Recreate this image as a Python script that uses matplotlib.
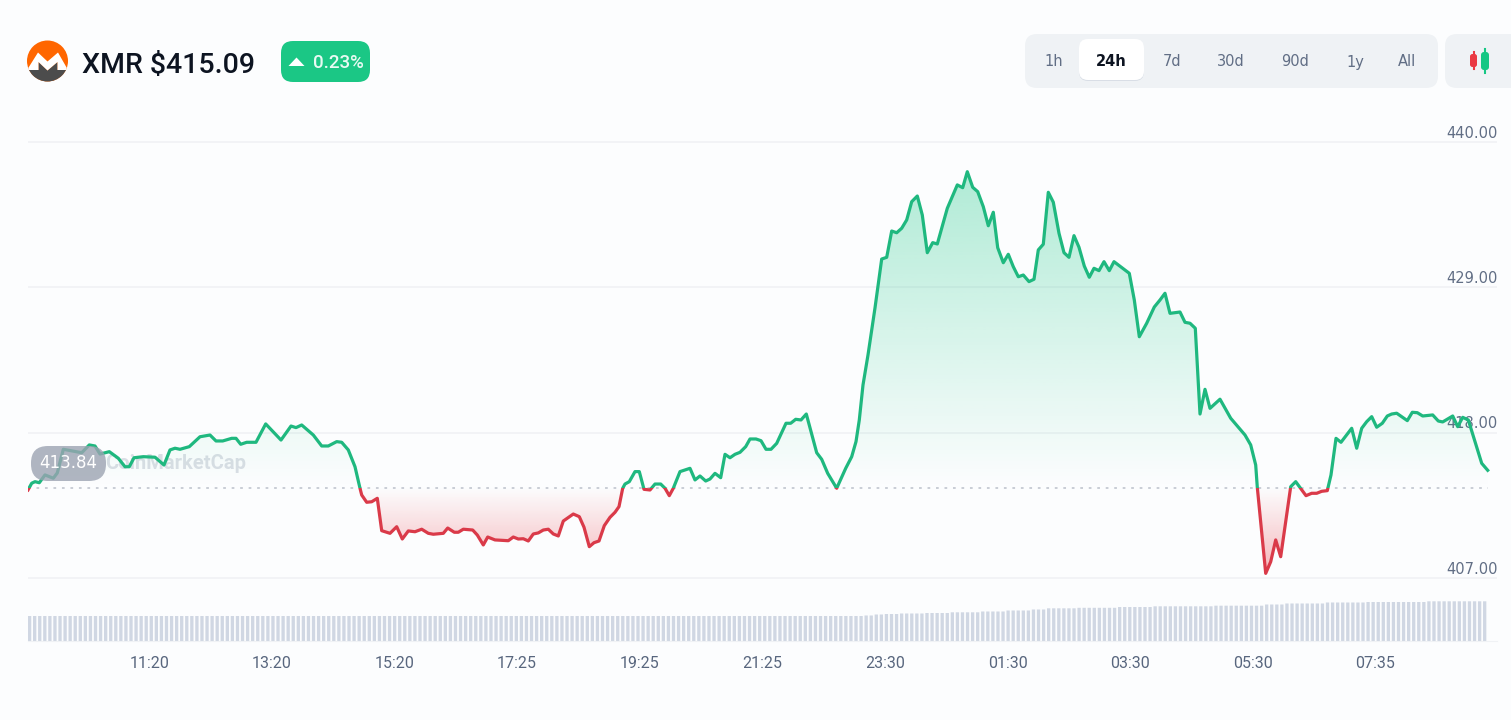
import numpy as np
import matplotlib
matplotlib.use("Agg")
import matplotlib.pyplot as plt
from matplotlib.patches import FancyBboxPatch, Polygon, Circle, Rectangle
from matplotlib.transforms import ScaledTranslation

# minutes since the left edge of the chart
elapsed = [
    0, 3.7, 7, 11.3, 17, 25.3, 29.3, 35.3, 53.7, 61.3, 67, 72, 81.3, 90.3, 97, 101.3,
    106, 115.3, 127, 136, 142, 147, 152, 161.3, 172, 182, 188, 194.7, 203.7, 208, 212.7, 218.7,
    228, 237.7, 253, 263, 268, 273.7, 285.3, 293.7, 300.3, 308.7, 313.7, 320.3, 327, 332, 333.7, 338.7,
    343.7, 349.3, 353.7, 362, 368.7, 374.3, 380.3, 387, 393.7, 400.3, 405.3, 415.3, 419.7, 426.3, 430.3, 435.3,
    444.7, 449.3, 455.3, 459.7, 467, 480.3, 485.3, 490.3, 495.3, 500.3, 505.3, 510.3, 515.3, 520.3, 525.3, 530.3,
    535.3, 545.3, 551.3, 556, 561.3, 566, 571, 576.3, 582, 587, 591, 594.7, 597, 601.3, 607, 611.3,
    616, 622, 627, 632.7, 637, 641.3, 645.3, 652, 662, 667, 672, 677.7, 682, 687, 692.7, 697,
    702, 707, 712, 717.7, 722, 728, 733, 738, 743, 748.7, 758, 762.7, 767.7, 773, 778.3, 788.7,
    793.7, 799.7, 808.7, 817.7, 823.7, 828, 831.3, 835, 840, 847, 853.7, 858.7, 863.7, 868.7, 873.7, 878.7,
    883.7, 889.3, 894.3, 899.3, 904.7, 909.3, 919.3, 929.3, 934.7, 939.3, 944.7, 949.7, 955.3, 960.3, 965.3, 969.7,
    975.3, 980.3, 985.3, 990.3, 995.3, 1001, 1006, 1010.3, 1015.3, 1020.3, 1025.3, 1031, 1036, 1041, 1046, 1051,
    1056.3, 1061.3, 1066, 1071, 1076, 1081.3, 1086, 1101.3, 1106.3, 1111.3, 1118.7, 1126.3, 1132, 1137, 1142, 1152,
    1157, 1162, 1167.3, 1172, 1177, 1182, 1192, 1202.7, 1217, 1222.7, 1227.7, 1229.3, 1237.7, 1242.7, 1247.7, 1252.7,
    1262.7, 1267.7, 1278, 1283.7, 1288.7, 1293.7, 1299.3, 1303, 1308, 1313, 1323.7, 1328.7, 1333.7, 1338.7, 1343.7, 1348.7,
    1354.3, 1359.3, 1363.7, 1368.7, 1379.3, 1384.3, 1389.3, 1394.7, 1404.7, 1410.3, 1414.7, 1424.7, 1429.7, 1434.7, 1440.3, 1453.7,
    1459.7,
]
prices = [
    413.66, 414.17, 414.29, 414.21, 414.80, 414.55, 414.95, 416.74, 416.48, 417.07, 416.99, 416.38, 416.56, 416.06, 415.42, 415.42,
    416.10, 416.18, 416.14, 415.55, 416.69, 416.82, 416.74, 416.94, 417.69, 417.82, 417.37, 417.37, 417.57, 417.57, 417.12, 417.27,
    417.27, 418.66, 417.44, 418.50, 418.38, 418.58, 417.82, 416.99, 416.99, 417.32, 417.27, 416.69, 415.42, 413.79, 413.28, 412.73,
    412.77, 413.03, 410.58, 410.38, 410.88, 409.95, 410.56, 410.50, 410.69, 410.38, 410.31, 410.38, 410.78, 410.46, 410.46, 410.69,
    410.63, 410.25, 409.50, 410.10, 409.88, 409.82, 410.10, 409.95, 409.97, 409.80, 410.33, 410.41, 410.63, 410.69, 410.33, 410.18,
    411.31, 411.84, 411.64, 410.84, 409.37, 409.67, 409.80, 410.96, 411.59, 411.97, 412.40, 413.79, 414.11, 414.29, 415.05, 415.05,
    413.71, 413.66, 414.11, 414.11, 413.79, 413.23, 413.79, 415.05, 415.30, 414.42, 414.72, 414.34, 414.49, 414.92, 414.59, 416.36,
    416.10, 416.36, 416.51, 416.94, 417.52, 417.52, 417.39, 416.74, 416.74, 417.19, 418.71, 418.71, 419.01, 418.96, 419.41, 416.48,
    415.98, 414.92, 413.79, 415.30, 416.18, 417.32, 418.96, 421.61, 423.88, 427.44, 431.14, 431.27, 433.26, 433.13, 433.47, 434.10,
    435.48, 435.91, 434.47, 431.62, 432.38, 432.28, 434.98, 436.75, 436.54, 437.75, 436.57, 436.24, 435.10, 433.66, 434.68, 432.00,
    430.86, 431.50, 430.56, 429.80, 429.93, 429.43, 429.61, 431.83, 432.26, 436.19, 435.44, 433.09, 431.62, 431.27, 432.91, 432.03,
    430.61, 429.76, 430.44, 430.26, 430.94, 430.26, 430.94, 430.06, 428.04, 425.26, 426.28, 427.51, 428.04, 428.55, 427.03, 427.13,
    426.35, 426.28, 425.90, 419.41, 421.28, 419.84, 420.53, 419.09, 417.82, 417.07, 415.55, 413.86, 407.35, 408.23, 409.88, 408.61,
    413.91, 414.29, 413.23, 413.41, 413.41, 413.56, 413.61, 414.80, 417.57, 417.27, 418.33, 416.82, 418.33, 418.83, 419.21, 418.41,
    418.71, 419.26, 419.41, 419.47, 418.91, 419.54, 419.51, 419.26, 419.34, 418.88, 418.81, 419.26, 418.45, 419.16, 418.96, 415.68,
    415.15,
]
# one volume bar per 5 minute sample
volumes = ([25.0] * 165 + [25.5] * 2 + [26.5] * 2 + [27.0] * 3 + [27.5] * 5 + [28.0] * 5
           + [28.7] * 6 + [29.5] * 5 + [30.5] * 5 + [31.5] * 3 + [32.7] * 6 + [33.2] * 8
           + [34.0] * 7 + [34.7] * 12 + [35.3] * 10 + [36.5] * 4 + [37.5] * 8 + [38.5] * 8
           + [39.0] * 12 + [39.7] * 12)

baseline = 413.84
price_ticks = [407, 418, 429, 440]
time_ticks = [122, 244, 367, 489, 612, 734, 857, 980, 1102, 1225, 1347]
time_labels = ["11:20", "13:20", "15:20", "17:25", "19:25", "21:25",
               "23:30", "01:30", "03:30", "05:30", "07:35"]
range_labels = ["1h", "24h", "7d", "30d", "90d", "1y", "All"]
range_centers = [1054, 1111, 1172, 1231, 1295, 1355, 1407]

BG = "#FCFDFE"
GREEN = "#1FB87F"
RED = "#DA3A49"
GREY = "#616E85"
GRID = "#F0F2F5"

fig = plt.figure(figsize=(15.11, 7.2), dpi=100, facecolor=BG)

# price chart
ax = fig.add_axes([28 / 1511, 130 / 720, 1469 / 1511, 480 / 720], zorder=2)
ax.patch.set_alpha(0)
ax.set_xlim(0, 1469)
ax.set_ylim(406.09, 442.42)
for s in ax.spines.values():
    s.set_visible(False)
ax.set_axisbelow(True)
ax.set_xticks([])
ax.set_yticks(price_ticks)
ax.set_yticklabels(["%.2f" % p for p in price_ticks])
ax.grid(axis="y", color=GRID, lw=1.2)
ax.tick_params(axis="y", length=0, left=False, labelleft=False, labelright=True,
               pad=-36.5, labelsize=10.5, labelcolor=GREY)
for lab in ax.get_yticklabels():
    lab.set_va("bottom")
    lab.set_family("DejaVu Sans")
    lab.set_transform(lab.get_transform() + ScaledTranslation(0, 1 / 72, fig.dpi_scale_trans))

outline = list(zip(elapsed, prices)) + [(elapsed[-1], baseline), (elapsed[0], baseline)]
top = max(prices)
bottom = min(prices)


def gradient(color, a_low, a_high, y0, y1):
    rgb = matplotlib.colors.to_rgb(color)
    img = np.ones((256, 2, 4))
    img[..., :3] = rgb
    img[..., 3] = np.linspace(a_low, a_high, 256)[:, None]
    im = ax.imshow(img, extent=(0, 1469, y0, y1), origin="lower", aspect="auto", zorder=1,
                   interpolation="bilinear")
    im.set_clip_path(Polygon(outline, closed=True, transform=ax.transData))


gradient("#16C784", 0.0, 0.33, baseline, top)
gradient("#EA3943", 0.36, 0.0, bottom, baseline)
ax.set_xlim(0, 1469)
ax.set_ylim(406.09, 442.42)

ax.plot([0, elapsed[-1]], [baseline, baseline], color="#C5CAD2", lw=1.3,
        ls=(0, (1.5, 3.2)), zorder=1.5)

up, = ax.plot(elapsed, prices, color=GREEN, lw=2.3, zorder=3, solid_joinstyle="round")
up.set_clip_path(Rectangle((0, baseline), 1469, 40, transform=ax.transData))
down, = ax.plot(elapsed, prices, color=RED, lw=2.3, zorder=3, solid_joinstyle="round")
down.set_clip_path(Rectangle((0, baseline - 40), 1469, 40, transform=ax.transData))

# volume strip
ax_vol = fig.add_axes([28 / 1511, 79 / 720, 1469 / 1511, 51 / 720], zorder=2)
ax_vol.patch.set_alpha(0)
ax_vol.bar(np.arange(len(volumes)) * 5.07 + 1.6, volumes, width=3.3, color="#D0D7E3", snap=False)
ax_vol.set_xlim(0, 1469)
ax_vol.set_ylim(0, 51)
ax_vol.set_yticks([])
ax_vol.set_xticks(time_ticks)
ax_vol.set_xticklabels(time_labels, family="Roboto", fontsize=11.5, color="#58667E")
ax_vol.tick_params(axis="x", length=0, pad=11)
for name, s in ax_vol.spines.items():
    s.set_visible(name == "bottom")
ax_vol.spines["bottom"].set_color(GRID)

# watermark sits under the line
fig.text(105 / 1511, 1 - 463 / 720, "CoinMarketCap", family="Roboto", fontweight="bold",
         fontsize=14.5, color="#DADEE5", va="center", zorder=1)

# header and controls, drawn in pixel coordinates
ui = fig.add_axes([0, 0, 1, 1], zorder=5)
ui.set_xlim(0, 1511)
ui.set_ylim(720, 0)
ui.axis("off")
ui.patch.set_alpha(0)


def box(x0, y0, x1, y1, r, color, alpha=1.0, z=1):
    ui.add_patch(FancyBboxPatch((x0, y0), x1 - x0, y1 - y0, boxstyle="round,pad=0,rounding_size=%g" % r,
                                fc=color, ec="none", alpha=alpha, zorder=z))


# logo
disc = Circle((47.5, 61), 20.5, fc="#FF6600", ec="none", zorder=2)
ui.add_patch(disc)
dark = Polygon([(20, 70), (38.5, 70), (38.5, 62), (47.5, 70.5), (57.5, 62), (57.5, 70), (75, 70), (75, 90), (20, 90)],
               fc="#4C4C4C", ec="none", zorder=3)
ui.add_patch(dark)
dark.set_clip_path(disc)
mark = Polygon([(27, 70), (38, 52.5), (47.5, 61.5), (58, 52.5), (68, 70), (57.5, 70), (57.5, 62),
                (47.5, 70.5), (38.5, 62), (38.5, 70)], fc="white", ec="none", zorder=4)
ui.add_patch(mark)
mark.set_clip_path(disc)

ui.text(82, 65.5, "XMR $415.09", family="Roboto", fontsize=20.5, fontweight="medium",
        color="#0D1421", va="center")

# change badge
box(281, 41, 370, 82, 12, "#1BC785")
ui.add_patch(Polygon([(288.5, 66), (296.5, 57.5), (304.5, 66)], fc="white", ec="none", zorder=2))
ui.text(313, 63.5, "0.23%", family="Roboto", fontsize=13.5, fontweight="medium", color="#E9FAF3",
        va="center", zorder=2)

# range selector
box(1025, 34, 1438, 88, 12, "#EFF2F5")
box(1079, 40, 1144, 81, 9, "#D9DEE6", z=2)
box(1079, 39, 1144, 80, 9, "white", z=3)
for lab, cx in zip(range_labels, range_centers):
    active = lab == "24h"
    ui.text(cx, 62, lab, family="DejaVu Sans", fontsize=10.5, ha="center", va="center",
            color="#0D1421" if active else GREY, fontweight="bold" if active else "normal", zorder=4)

# candle toggle
box(1445, 34, 1530, 88, 12, "#EFF2F5")
ui.plot([1473.5, 1473.5], [52, 69], color="#EA3943", lw=1.5, zorder=2)
box(1470, 54, 1477, 67, 2.5, "#EA3943", z=3)
ui.plot([1485, 1485], [49, 73], color="#16C784", lw=1.5, zorder=2)
box(1481, 52, 1489, 70, 3, "#16C784", z=3)

# open price pill over the start of the line
box(31, 446, 106, 481, 17, "#9CA3B2", alpha=0.8, z=6)
ui.text(68.5, 463, "413.84", family="DejaVu Sans", fontsize=12, color="white",
        ha="center", va="center", zorder=7)

assert len(elapsed) == len(prices)
fig.savefig("out.png", dpi=100, facecolor=BG)
